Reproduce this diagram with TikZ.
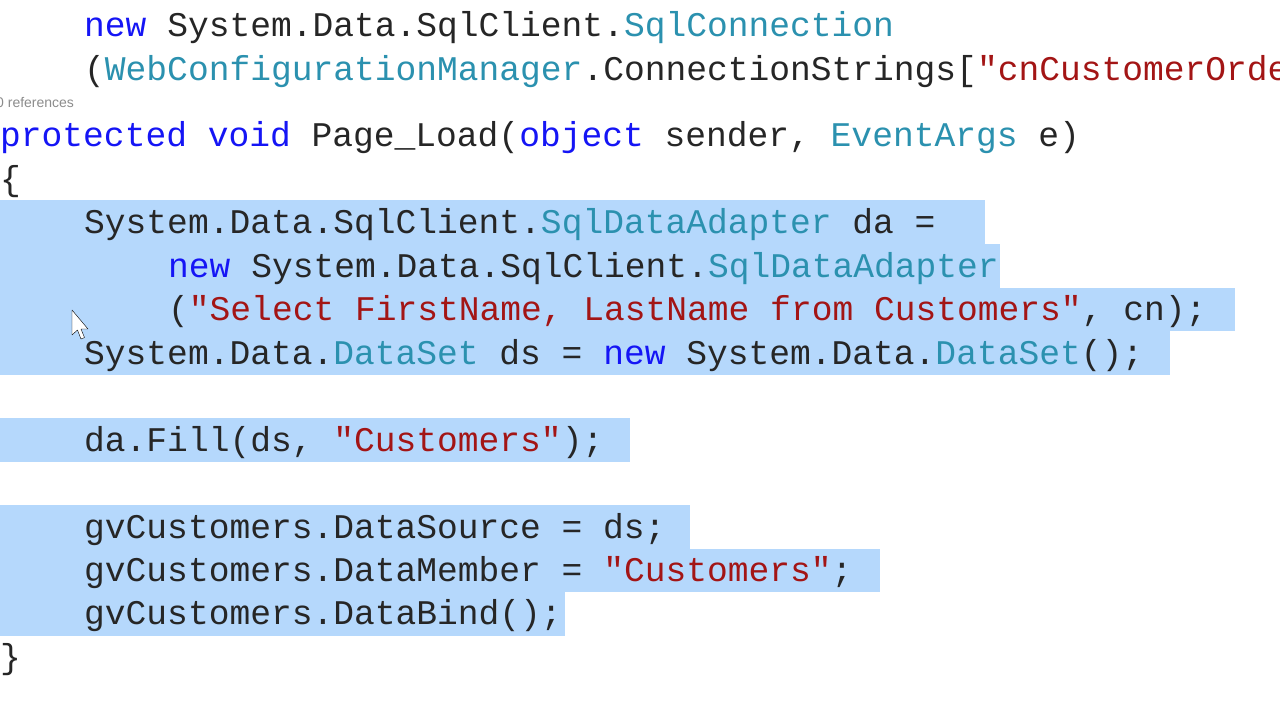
\documentclass[tikz,border=0pt]{standalone}
\usepackage{fontspec}
\setmonofont{Liberation Mono}
\setsansfont{Liberation Sans}
\definecolor{kwc}{HTML}{1515F5}
\definecolor{tyc}{HTML}{2B91AF}
\definecolor{stc}{HTML}{A31515}
\definecolor{selc}{HTML}{B5D8FC}
\newcommand{\kwd}[1]{\textcolor{kwc}{#1}}
\newcommand{\typ}[1]{\textcolor{tyc}{#1}}
\newcommand{\cstr}[1]{\textcolor{stc}{#1}}
\tikzset{codeline/.style={anchor=base west,inner sep=0pt,font=\ttfamily\fontsize{34.6}{40}\selectfont,text=black!85}}
\begin{document}
\begin{tikzpicture}[x=1pt,y=-1pt]
\useasboundingbox (0,0) rectangle (1280,720);
\clip (0,0) rectangle (1280,720);
\fill[white] (0,0) rectangle (1280,720);
% selection
\fill[selc] (0,200) rectangle (985,244);
\fill[selc] (0,244) rectangle (1000,288);
\fill[selc] (0,288) rectangle (1235,331);
\fill[selc] (0,331) rectangle (1170,375);
\fill[selc] (0,418) rectangle (630,462);
\fill[selc] (0,505) rectangle (690,549);
\fill[selc] (0,549) rectangle (880,592);
\fill[selc] (0,592) rectangle (565,636);
\node[codeline] (l1) at (84,36) {\kwd{new} System.Data.SqlClient.\typ{SqlConnection}};
\node[codeline] (l2) at (84,80) {(\typ{WebConfigurationManager}.ConnectionStrings[\cstr{"cnCustomerOrders"}]};
\node[anchor=base west,inner sep=0pt,font=\sffamily\fontsize{14}{16}\selectfont,text=black!45] (ref) at (-4,107) {0 references};
\node[codeline] (l3) at (0,146) {\kwd{protected} \kwd{void} Page\_Load(\kwd{object} sender, \typ{EventArgs} e)};
\node[codeline] (l4) at (0,190) {\{};
\node[codeline] (l5) at (84,233) {System.Data.SqlClient.\typ{SqlDataAdapter} da =};
\node[codeline] (l6) at (168,277) {\kwd{new} System.Data.SqlClient.\typ{SqlDataAdapter}};
\node[codeline] (l7) at (168,320) {(\cstr{"Select FirstName, LastName from Customers"}, cn);};
\node[codeline] (l8) at (84,364) {System.Data.\typ{DataSet} ds = \kwd{new} System.Data.\typ{DataSet}();};
\node[codeline] (l9) at (84,451) {da.Fill(ds, \cstr{"Customers"});};
\node[codeline] (l10) at (84,538) {gvCustomers.DataSource = ds;};
\node[codeline] (l11) at (84,581) {gvCustomers.DataMember = \cstr{"Customers"};};
\node[codeline] (l12) at (84,624) {gvCustomers.DataBind();};
\node[codeline] (l13) at (0,668) {\}};
% cursor
\draw[black,fill=white,line join=round] (72,310) -- (72,335) -- (77.5,330) -- (81,339) -- (84.5,337.5) -- (81,329) -- (88,329) -- cycle;
\end{tikzpicture}
\end{document}
